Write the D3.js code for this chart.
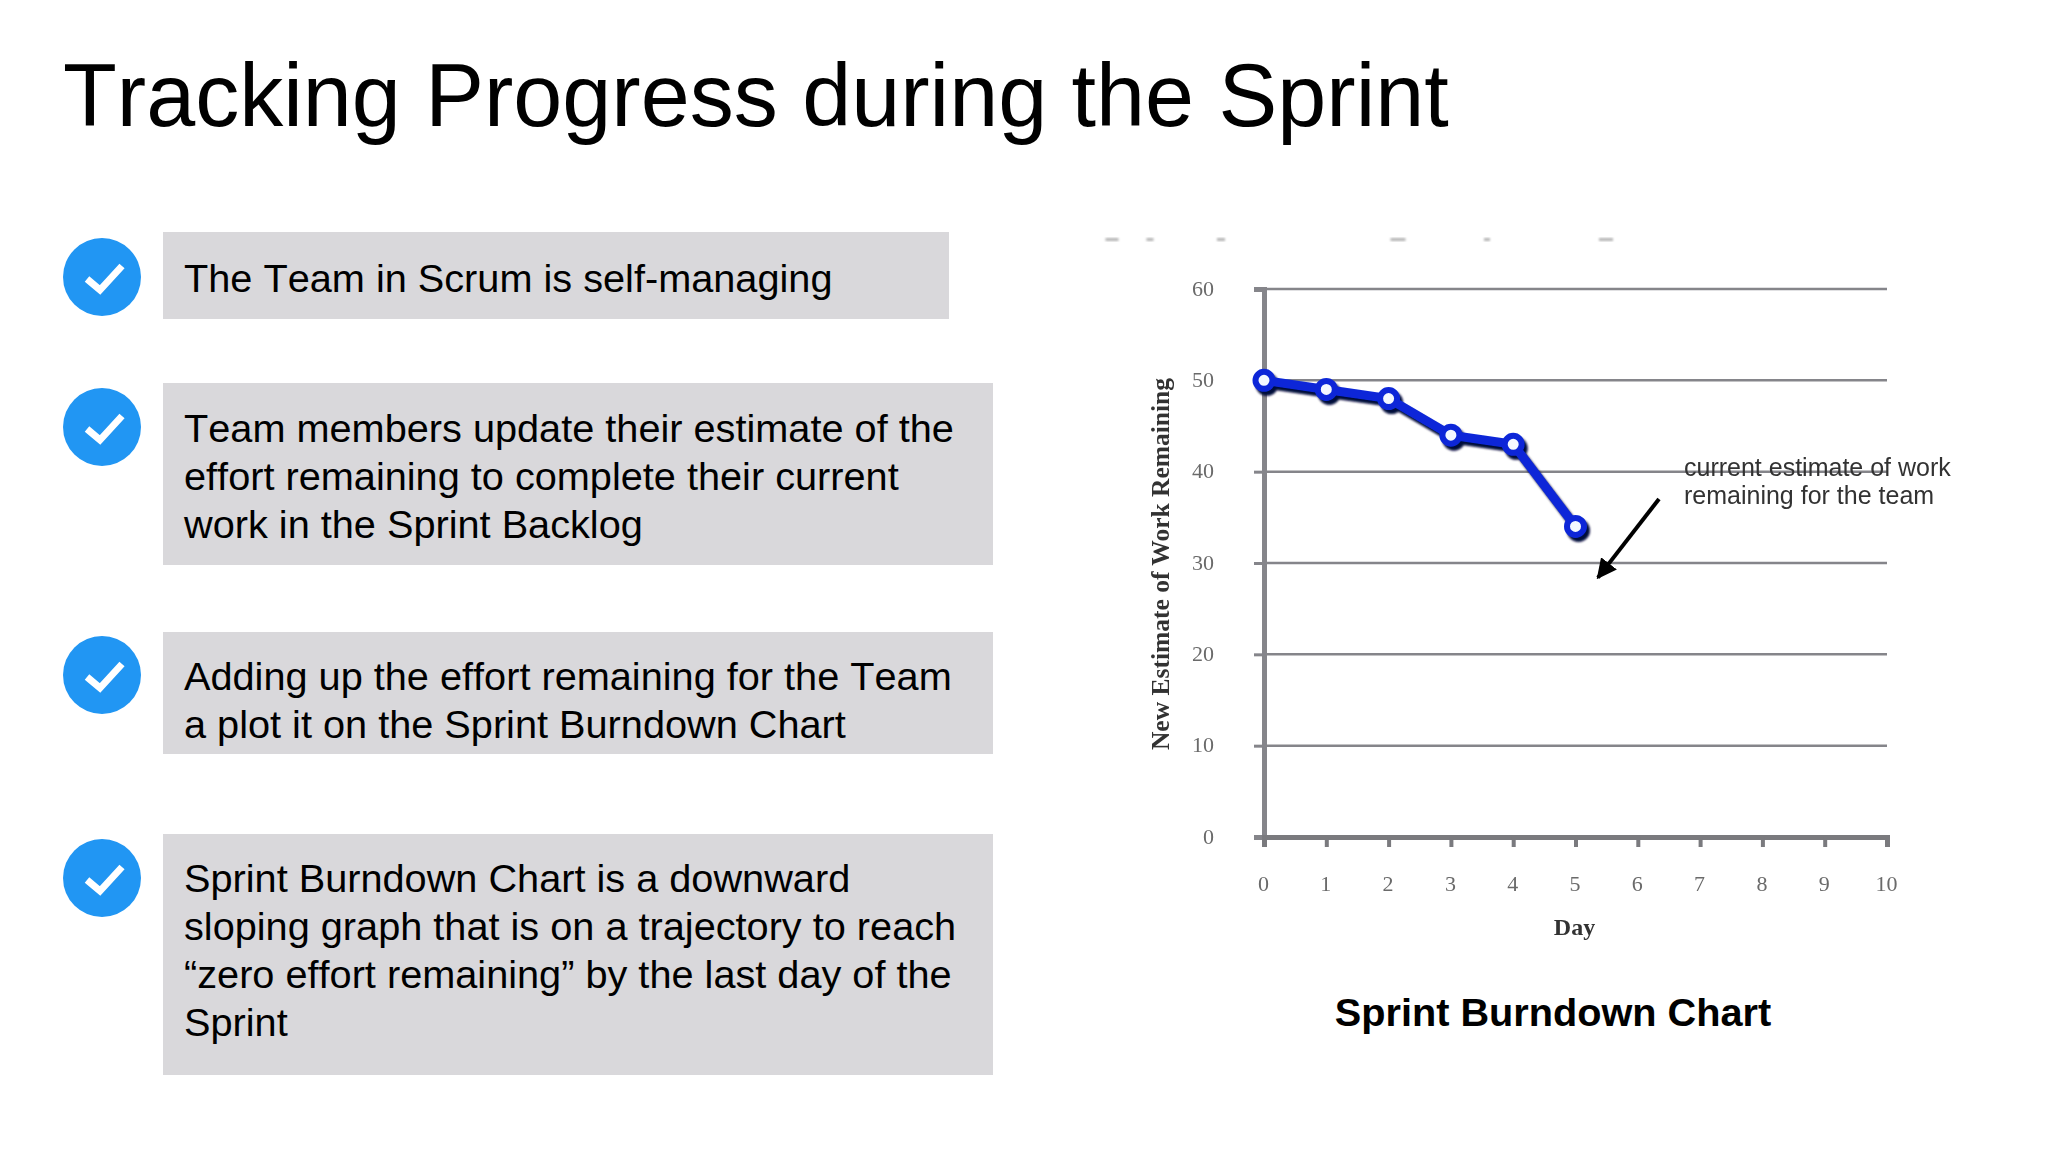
<!DOCTYPE html>
<html>
<head>
<meta charset="utf-8">
<script src="https://d3js.org/d3.v7.min.js"></script>
<style>
  html, body { margin: 0; background: #fff; }
  text { font-family: 'Liberation Sans', Arial, sans-serif; }
  .plain { font-kerning: none; }
</style>
</head>
<body>
<div id="slide"></div>
<script>
const slideTitle = 'Tracking Progress during the Sprint';
const chartCaption = 'Sprint Burndown Chart';
const bullets = [
  ['The Team in Scrum is self-managing'],
  ['Team members update their estimate of the', 'effort remaining to complete their current', 'work in the Sprint Backlog'],
  ['Adding up the effort remaining for the Team', 'a plot it on the Sprint Burndown Chart'],
  ['Sprint Burndown Chart is a downward', 'sloping graph that is on a trajectory to reach', '“zero effort remaining” by the last day of the', 'Sprint'],
];

// burndown values
const days = [0, 1, 2, 3, 4, 5];
const remaining = [50, 49, 48, 44, 43, 34];
const dayTicks = [0, 1, 2, 3, 4, 5, 6, 7, 8, 9, 10];
const workTicks = [0, 10, 20, 30, 40, 50, 60];
const xTitle = 'Day';
const yTitle = 'New Estimate of Work Remaining';
const noteLines = ['current estimate of work', 'remaining for the team'];

// layout of the left column
const boxes = [
  { top: 232, bottom: 319, right: 949, circle: 277, baseline: 292 },
  { top: 383, bottom: 565, right: 993, circle: 427, baseline: 442 },
  { top: 632, bottom: 754, right: 993, circle: 675, baseline: 690 },
  { top: 834, bottom: 1075, right: 993, circle: 878, baseline: 892 },
];
const lineHeight = 48;

const plot = { left: 1264, right: 1887, top: 289, bottom: 837 };

// cut-off bits of text left above the pasted chart image
const scraps = [
  { x: 1112, w: 13 },
  { x: 1150, w: 7 },
  { x: 1221, w: 8 },
  { x: 1398, w: 15 },
  { x: 1487, w: 6 },
  { x: 1606, w: 14 },
];

const svg = d3.select('#slide')
  .append('svg')
  .attr('width', 2048)
  .attr('height', 1152)
  .style('display', 'block');

svg.append('text')
  .attr('class', 'plain')
  .attr('x', 63)
  .attr('y', 126)
  .attr('font-size', 88.1)
  .attr('fill', '#000')
  .text(slideTitle);

/// //// Left column ////////////
const rows = svg.selectAll('g.row')
  .data(bullets)
  .enter()
  .append('g')
  .attr('class', 'row');

rows.append('rect')
  .attr('x', 163)
  .attr('y', (d, i) => boxes[i].top)
  .attr('width', (d, i) => boxes[i].right - 163)
  .attr('height', (d, i) => boxes[i].bottom - boxes[i].top)
  .attr('fill', '#d9d8db');

rows.append('circle')
  .attr('cx', 102)
  .attr('cy', (d, i) => boxes[i].circle)
  .attr('r', 39)
  .attr('fill', '#2196f3');

rows.append('path')
  .attr('d', (d, i) => {
    const c = boxes[i].circle;
    return `M${102 - 15},${c + 2} L${102 - 2},${c + 13} L${102 + 20},${c - 11}`;
  })
  .attr('fill', 'none')
  .attr('stroke', '#fff')
  .attr('stroke-width', 7);

rows.each(function (lines, i) {
  d3.select(this).selectAll('text')
    .data(lines)
    .enter()
    .append('text')
    .attr('class', 'plain')
    .attr('x', 184)
    .attr('y', (d, j) => boxes[i].baseline + j * lineHeight)
    .attr('font-size', 39.7)
    .attr('fill', '#000')
    .text((d) => d);
});

/// //// Burndown chart ////////////
const x = d3.scaleLinear().domain([0, 10]).range([plot.left, plot.right]);
const y = d3.scaleLinear().domain([0, 60]).range([plot.bottom, plot.top]);

const defs = svg.append('defs');
defs.append('filter').attr('id', 'soft')
  .append('feGaussianBlur').attr('stdDeviation', 0.7);
defs.append('filter').attr('id', 'softer')
  .append('feGaussianBlur').attr('stdDeviation', 1.2);
defs.append('marker')
  .attr('id', 'head')
  .attr('viewBox', '0 0 10 10')
  .attr('refX', 9)
  .attr('refY', 5)
  .attr('markerWidth', 5)
  .attr('markerHeight', 5)
  .attr('orient', 'auto')
  .append('path')
  .attr('d', 'M0,0 L10,5 L0,10 Z')
  .attr('fill', '#000');

svg.append('g')
  .attr('filter', 'url(#softer)')
  .selectAll('rect')
  .data(scraps)
  .enter()
  .append('rect')
  .attr('x', (d) => d.x - d.w / 2)
  .attr('y', 238)
  .attr('width', (d) => d.w)
  .attr('height', 3)
  .attr('fill', '#b4b4b4');

const chart = svg.append('g').attr('filter', 'url(#soft)');

// grid lines stop at the last day, same as the axis
chart.append('g')
  .selectAll('line')
  .data(workTicks.filter((d) => d !== 0))
  .enter()
  .append('line')
  .attr('x1', x(0))
  .attr('x2', x(10))
  .attr('y1', (d) => y(d))
  .attr('y2', (d) => y(d))
  .attr('stroke', '#85858a')
  .attr('stroke-width', 2.5);

const yAxis = chart.append('g')
  .attr('transform', `translate(${plot.left},0)`)
  .call(d3.axisLeft(y).tickValues(workTicks).tickSize(10).tickPadding(40));
yAxis.select('.domain').attr('stroke', '#85858a').attr('stroke-width', 5);
yAxis.selectAll('.tick line').attr('stroke', '#85858a').attr('stroke-width', 3);
yAxis.selectAll('.tick text')
  .attr('font-size', 22)
  .attr('fill', '#6a6a6a')
  .attr('dy', '0.28em')
  .style('font-family', "'Liberation Serif', serif");

const xAxis = chart.append('g')
  .attr('transform', `translate(0,${plot.bottom})`)
  .call(d3.axisBottom(x).tickValues(dayTicks).tickSize(10).tickPadding(28));
xAxis.select('.domain').attr('stroke', '#7a7a7e').attr('stroke-width', 5);
xAxis.selectAll('.tick line').attr('stroke', '#7a7a7e').attr('stroke-width', 4);
xAxis.selectAll('.tick text')
  .attr('font-size', 22)
  .attr('fill', '#6a6a6a')
  .attr('dx', -1)
  .style('font-family', "'Liberation Serif', serif");

chart.append('text')
  .attr('x', x(5) - 1)
  .attr('y', 935)
  .attr('text-anchor', 'middle')
  .attr('font-size', 24)
  .attr('font-weight', 'bold')
  .attr('fill', '#333')
  .style('font-family', "'Liberation Serif', serif")
  .text(xTitle);

chart.append('text')
  .attr('transform', 'translate(1169,564) rotate(-90)')
  .attr('text-anchor', 'middle')
  .attr('font-size', 25.5)
  .attr('font-weight', 'bold')
  .attr('fill', '#333')
  .style('font-family', "'Liberation Serif', serif")
  .text(yTitle);

const points = days.map((d, i) => ({ day: d, value: remaining[i] }));
const line = d3.line().x((d) => x(d.day)).y((d) => y(d.value));

// dark drop shadow under the series
const shadow = svg.append('g')
  .attr('transform', 'translate(3,4)')
  .attr('filter', 'url(#softer)');
shadow.append('path')
  .datum(points)
  .attr('d', line)
  .attr('fill', 'none')
  .attr('stroke', '#04083a')
  .attr('stroke-width', 9);
shadow.selectAll('circle')
  .data(points)
  .enter()
  .append('circle')
  .attr('cx', (d) => x(d.day))
  .attr('cy', (d) => y(d.value))
  .attr('r', 11.5)
  .attr('fill', '#04083a');

const series = svg.append('g').attr('filter', 'url(#soft)');
series.append('path')
  .datum(points)
  .attr('d', line)
  .attr('fill', 'none')
  .attr('stroke', '#0a28d8')
  .attr('stroke-width', 9);
series.selectAll('circle')
  .data(points)
  .enter()
  .append('circle')
  .attr('cx', (d) => x(d.day))
  .attr('cy', (d) => y(d.value))
  .attr('r', 8.5)
  .attr('fill', '#f4f8ff')
  .attr('stroke', '#0a28d8')
  .attr('stroke-width', 6);

const note = svg.append('g').attr('filter', 'url(#soft)');
note.selectAll('text')
  .data(noteLines)
  .enter()
  .append('text')
  .attr('x', 1684)
  .attr('y', (d, i) => 476 + i * 28)
  .attr('font-size', 25)
  .attr('fill', '#333')
  .text((d) => d);

// arrow from the note to the end of the line, given in chart units
note.append('line')
  .attr('x1', x(6.34))
  .attr('y1', y(37))
  .attr('x2', x(5.36))
  .attr('y2', y(28.4))
  .attr('stroke', '#000')
  .attr('stroke-width', 4)
  .attr('marker-end', 'url(#head)');

svg.append('text')
  .attr('x', 1553)
  .attr('y', 1026)
  .attr('text-anchor', 'middle')
  .attr('font-size', 39.7)
  .attr('font-weight', 'bold')
  .attr('fill', '#000')
  .text(chartCaption);
</script>
</body>
</html>
